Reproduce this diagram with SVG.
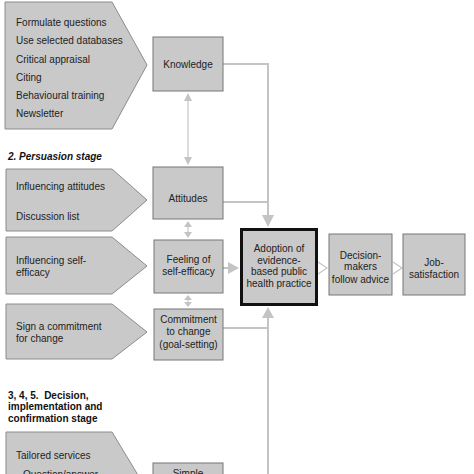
<svg xmlns="http://www.w3.org/2000/svg" width="474" height="474" viewBox="0 0 474 474">
<defs>
<style>
.pent{fill:#c9c9c9;stroke:#8c8c8c;stroke-width:1}
.box{fill:#c9c9c9;stroke:#767676;stroke-width:1}
.main{fill:#c9c9c9;stroke:#111;stroke-width:3}
.t{font-family:"Liberation Sans",Arial,sans-serif;font-size:10px;fill:#222}
.c{text-anchor:middle}
.h{font-family:"Liberation Sans",Arial,sans-serif;font-size:10px;font-weight:bold;fill:#111}
.ln{fill:none;stroke:#c4c4c4;stroke-width:2}
.thin{fill:none;stroke:#c4c4c4;stroke-width:1.2}
.ah{fill:#c4c4c4}
</style>
</defs>
<rect width="474" height="474" fill="#fff"/>

<g id="connectors">
  <polyline class="ln" points="223,64 268,64 268,216"/>
  <line class="ln" x1="223" y1="202" x2="268" y2="202"/>
  <polygon class="ah" points="262,215 274,215 268,227"/>
  <line class="ln" x1="223" y1="328" x2="268" y2="328"/>
  <line class="ln" x1="268" y1="474" x2="268" y2="317"/>
  <polygon class="ah" points="262,318 274,318 268,307"/>
  <line class="ln" x1="223" y1="268" x2="229" y2="268"/>
  <polygon class="ah" points="228,262 228,274 239,268"/>
  <polyline class="thin" points="318,262 327,268 318,274"/>
  <polyline class="thin" points="393,262 402,268 393,274"/>
  <line class="thin" x1="188" y1="99" x2="188" y2="159"/>
  <polygon class="ah" points="184,101 192,101 188,93"/>
  <polygon class="ah" points="184,157 192,157 188,165"/>
  <line class="thin" x1="188" y1="225" x2="188" y2="234"/>
  <polygon class="ah" points="184,227 192,227 188,221"/>
  <polygon class="ah" points="184,232 192,232 188,238"/>
  <line class="thin" x1="188" y1="298" x2="188" y2="304"/>
  <polygon class="ah" points="184,300 192,300 188,295"/>
  <polygon class="ah" points="184,302 192,302 188,307"/>
</g>

<g id="p1">
  <polygon class="pent" points="5,2 112,2 147,65 112,129 5,129"/>
  <text class="t" x="16" y="26">Formulate questions</text>
  <text class="t" x="16" y="44">Use selected databases</text>
  <text class="t" x="16" y="62.5">Critical appraisal</text>
  <text class="t" x="16" y="81">Citing</text>
  <text class="t" x="16" y="99">Behavioural training</text>
  <text class="t" x="16" y="117">Newsletter</text>
</g>

<text class="h" x="8" y="159.5" font-style="italic">2. Persuasion stage</text>

<g id="p2">
  <polygon class="pent" points="6,169 112,169 147,200 112,231 6,231"/>
  <text class="t" x="16" y="189.5">Influencing attitudes</text>
  <text class="t" x="16" y="220">Discussion list</text>
</g>

<g id="p3">
  <polygon class="pent" points="6,237 112,237 147,266 112,294 6,294"/>
  <text class="t" x="16" y="263.5">Influencing self-</text>
  <text class="t" x="16" y="275.5">efficacy</text>
</g>

<g id="p4">
  <polygon class="pent" points="6,304 112,304 147,332 112,359 6,359"/>
  <text class="t" x="16" y="330">Sign a commitment</text>
  <text class="t" x="16" y="342">for change</text>
</g>

<g id="heading3">
  <text class="h" x="8" y="398.5" xml:space="preserve">3, 4, 5.  Decision,</text>
  <text class="h" x="8" y="410">implementation and</text>
  <text class="h" x="8" y="421.5">confirmation stage</text>
</g>

<g id="p5">
  <polygon class="pent" points="6,432 112,432 147,490 112,548 6,548"/>
  <text class="t" x="16" y="459">Tailored services</text>
  <text class="t" x="23" y="478">Question/answer</text>
</g>

<g id="knowledge">
  <rect class="box" x="153" y="37" width="70" height="54"/>
  <text class="t c" x="188" y="68">Knowledge</text>
</g>
<g id="attitudes">
  <rect class="box" x="153" y="167" width="70" height="52"/>
  <text class="t c" x="188" y="201.5">Attitudes</text>
</g>
<g id="selfefficacy">
  <rect class="box" x="154" y="240" width="69" height="53"/>
  <text class="t c" x="188.5" y="262.5">Feeling of</text>
  <text class="t c" x="188.5" y="274.5">self-efficacy</text>
</g>
<g id="commitment">
  <rect class="box" x="154" y="309" width="69" height="51"/>
  <text class="t c" x="188.5" y="322.5">Commitment</text>
  <text class="t c" x="188.5" y="335">to change</text>
  <text class="t c" x="188.5" y="347.5">(goal-setting)</text>
</g>
<g id="simple">
  <rect class="box" x="153" y="463" width="70" height="40"/>
  <text class="t c" x="188" y="477">Simple</text>
</g>
<g id="adoption">
  <rect class="main" x="241.5" y="229.5" width="75" height="75"/>
  <text class="t c" x="279" y="251.5">Adoption of</text>
  <text class="t c" x="279" y="263.5">evidence-</text>
  <text class="t c" x="279" y="275">based public</text>
  <text class="t c" x="279" y="287">health practice</text>
</g>
<g id="decision">
  <rect class="box" x="329" y="234" width="63" height="61"/>
  <text class="t c" x="360.5" y="258.5">Decision-</text>
  <text class="t c" x="360.5" y="270">makers</text>
  <text class="t c" x="360.5" y="282.5">follow advice</text>
</g>
<g id="job">
  <rect class="box" x="403" y="234" width="62" height="61"/>
  <text class="t c" x="434" y="265.5">Job-</text>
  <text class="t c" x="434" y="277.5">satisfaction</text>
</g>
</svg>
